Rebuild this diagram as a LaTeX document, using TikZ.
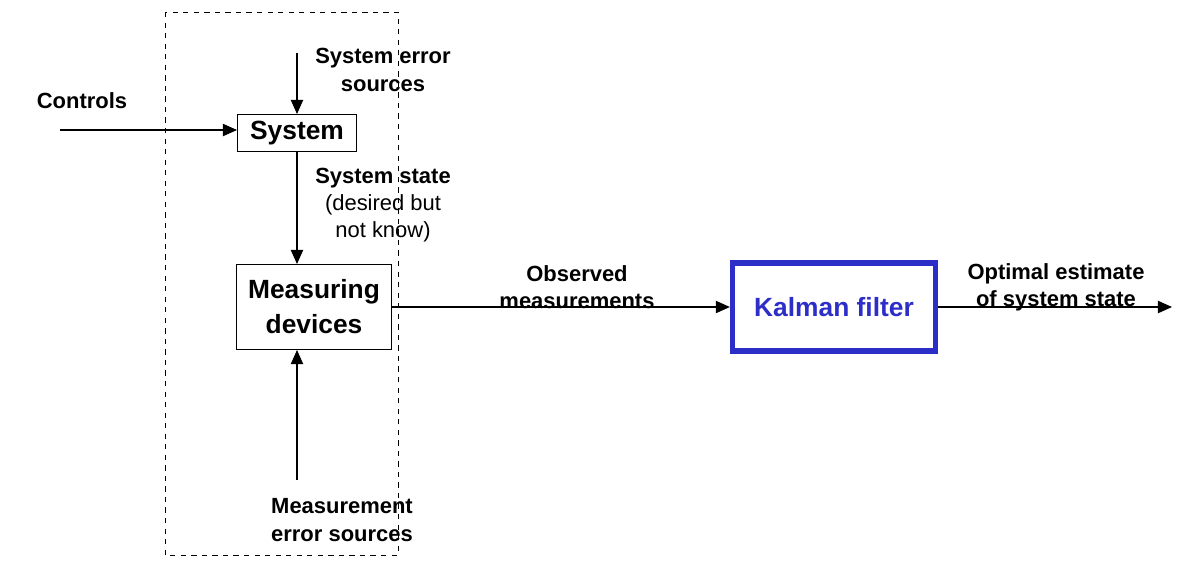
\documentclass[tikz,border=0pt]{standalone}
\usepackage{fontspec}
\setmainfont{Liberation Sans}
\usetikzlibrary{arrows.meta}

\definecolor{kalblue}{RGB}{45,45,200}
\tikzset{
  blk/.style={draw, semithick, font=\bfseries\fontsize{15}{18}\selectfont, align=center, inner sep=0pt},
  lbl/.style={font=\bfseries\fontsize{12.5}{15.5}\selectfont, align=center},
  arr/.style={-{Triangle[length=8pt,width=7pt]}, semithick}
}

\begin{document}
\begin{tikzpicture}[x=0.02cm, y=-0.02cm]
  \useasboundingbox (0,0) rectangle (1184,579);
  \draw [dashed] (165,12) rectangle (398,555);

  \node [blk, minimum width=119*0.02cm, minimum height=37*0.02cm] (sys) at (297,133) {System};
  \node [blk, font=\bfseries\fontsize{15}{20}\selectfont, minimum width=155*0.02cm, minimum height=85*0.02cm] (meas) at (314,307) {Measuring\\devices};
  \node [blk, draw=kalblue, line width=3pt, text=kalblue,
         minimum width=203*0.02cm, minimum height=88*0.02cm] (kal) at (834,307) {Kalman filter};

  \coordinate (ctl) at (60,130);
  \coordinate (sse) at (297,53);
  \coordinate (mse) at (297,480);
  \coordinate (out) at (1172,307);

  \node [lbl] at (82,101) {Controls};
  \node [lbl] at (383,70) {System error\\sources};
  \node [lbl] at (383,178) {System state};
  \node [lbl, font=\fontsize{12.5}{15.5}\selectfont] at (383,218) {(desired but\\not know)};
  \node [lbl] at (342,520) {Measurement\\error sources};
  \node [lbl] at (577,287) {Observed\\measurements};
  \node [lbl] at (1056,287) {Optimal estimate\\of system state};

  \draw [arr] (ctl) -- (ctl -| sys.west);
  \draw [arr] (sse) -- (sys.north);
  \draw [arr] (sys.south) -- (sys.south |- meas.north);
  \draw [arr] (mse) -- (mse |- meas.south);
  \draw [arr] (meas.east) -- (kal.west);
  \draw [arr] (kal.east) -- (out);
\end{tikzpicture}
\end{document}
